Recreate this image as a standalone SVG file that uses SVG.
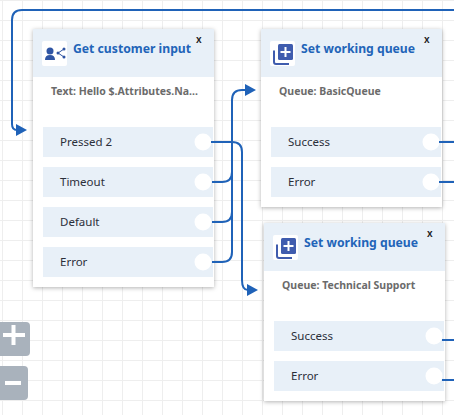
<svg xmlns="http://www.w3.org/2000/svg" width="454" height="419" viewBox="0 0 454 419">
<defs>
<pattern id="grid" width="20" height="20" patternUnits="userSpaceOnUse" x="2" y="0"><path d="M0.5 0V20M0 0.5H20" fill="none" stroke="#eeeeee" stroke-width="1"/></pattern>
<filter id="sh" x="-10%" y="-10%" width="120%" height="120%"><feDropShadow dx="0" dy="1" stdDeviation="2" flood-color="#000" flood-opacity="0.3"/></filter>
<marker id="arrow" markerUnits="userSpaceOnUse" markerWidth="12" markerHeight="12" refX="1" refY="6" orient="auto"><path d="M0 0L11 6L0 12Z" fill="#1f62b8"/></marker>
<g id="qicon"><rect width="25" height="25" rx="2" fill="#fff"/><path d="M4 9.500V21Q4 23 6 23H19" fill="none" stroke="#3f5cae" stroke-width="2"/><rect x="8" y="3" width="15" height="16" rx="1.500" fill="#3f5cae"/><path d="M15.500 6V16M10.500 11H20.500" stroke="#fff" stroke-width="2"/></g>
</defs>
<style>
text{font-family:"Noto Sans","Open Sans",sans-serif}
.card{fill:#fff;filter:url(#sh)}
.head,.row{fill:#e8f0f8}
.title{font-size:12.200px;font-weight:700;fill:#2264b8}
.sub{font-size:10.500px;font-weight:700;fill:#6b6b6b}
.lab{font-size:11.500px;fill:#2b2f3a}
.x{font-size:10px;font-weight:600;fill:#222}
.dot{fill:#fff}
.wire{fill:none;stroke:#1f62b8;stroke-width:2}
</style>
<rect width="454" height="415" fill="url(#grid)"/>
<g id="zoom-in"><rect x="-6" y="322" width="36" height="34" rx="4" fill="#a9b2bc"/><path d="M13.500 325V345M3 335H25" stroke="#fff" stroke-width="4"/></g>
<g id="zoom-out"><rect x="-6" y="366" width="34" height="34" rx="4" fill="#a9b2bc"/><path d="M5 383H21" stroke="#fff" stroke-width="4"/></g>
<g id="node-input">
<rect class="card" x="33" y="29" width="181" height="258"/><rect class="head" x="33" y="29" width="181" height="48"/>
<rect x="42" y="41" width="25" height="25" rx="2" fill="#fff"/>
<g fill="#2f55a4"><circle cx="50" cy="51" r="3.500"/><path d="M45 60Q45 55 50 55Q55 55 55 60Z"/><circle cx="64" cy="49" r="1.500"/><circle cx="64" cy="57" r="1.500"/><circle cx="58" cy="53" r="1.500"/><path d="M58 53L64 49M58 53L64 57" stroke="#2f55a4" stroke-width="1"/></g>
<text class="title" x="73" y="53">Get customer input</text><text class="x" x="196" y="43">x</text>
<text class="sub" x="51" y="95">Text: Hello $.Attributes.Na...</text>
<rect class="row" x="43" y="127" width="170" height="30"/><text class="lab" x="60" y="146">Pressed 2</text><circle class="dot" cx="203" cy="142" r="8.500"/>
<rect class="row" x="43" y="167" width="170" height="30"/><text class="lab" x="60" y="186">Timeout</text><circle class="dot" cx="203" cy="182" r="8.500"/>
<rect class="row" x="43" y="207" width="170" height="30"/><text class="lab" x="60" y="226">Default</text><circle class="dot" cx="203" cy="222" r="8.500"/>
<rect class="row" x="43" y="247" width="170" height="30"/><text class="lab" x="60" y="266">Error</text><circle class="dot" cx="203" cy="262" r="8.500"/>
</g>
<g id="node-basic">
<rect class="card" x="261" y="29" width="181" height="178"/><rect class="head" x="261" y="29" width="181" height="48"/>
<use href="#qicon" x="270" y="41"/>
<text class="title" x="301" y="53">Set working queue</text><text class="x" x="424" y="43">x</text>
<text class="sub" x="279" y="95">Queue: BasicQueue</text>
<rect class="row" x="271" y="127" width="170" height="30"/><text class="lab" x="288" y="146">Success</text><circle class="dot" cx="431" cy="142" r="8.500"/>
<rect class="row" x="271" y="167" width="170" height="30"/><text class="lab" x="288" y="186">Error</text><circle class="dot" cx="431" cy="182" r="8.500"/>
</g>
<g id="node-tech">
<rect class="card" x="264" y="223" width="181" height="178"/><rect class="head" x="264" y="223" width="181" height="48"/>
<use href="#qicon" x="273" y="235"/>
<text class="title" x="304" y="247">Set working queue</text><text class="x" x="427" y="237">x</text>
<text class="sub" x="282" y="289">Queue: Technical Support</text>
<rect class="row" x="274" y="321" width="170" height="30"/><text class="lab" x="291" y="340">Success</text><circle class="dot" cx="434" cy="336" r="8.500"/>
<rect class="row" x="274" y="361" width="170" height="30"/><text class="lab" x="291" y="380">Error</text><circle class="dot" cx="434" cy="376" r="8.500"/>
</g>
<g id="connectors">
<path class="wire" d="M454 10H22Q12 10 12 20V124Q12 130 17 130" marker-end="url(#arrow)"/>
<path class="wire" d="M211 142H232Q242 142 242 152V280Q242 290 248 290" marker-end="url(#arrow)"/>
<path class="wire" d="M212 182H222Q232 182 232 172V100Q232 90 242 90H246" marker-end="url(#arrow)"/>
<path class="wire" d="M212 222H222Q232 222 232 212V170"/>
<path class="wire" d="M212 262H222Q232 262 232 252V210"/>
<path class="wire" d="M439 142H454M439 182H454M442 340H454M442 380H454"/>
</g>
</svg>
